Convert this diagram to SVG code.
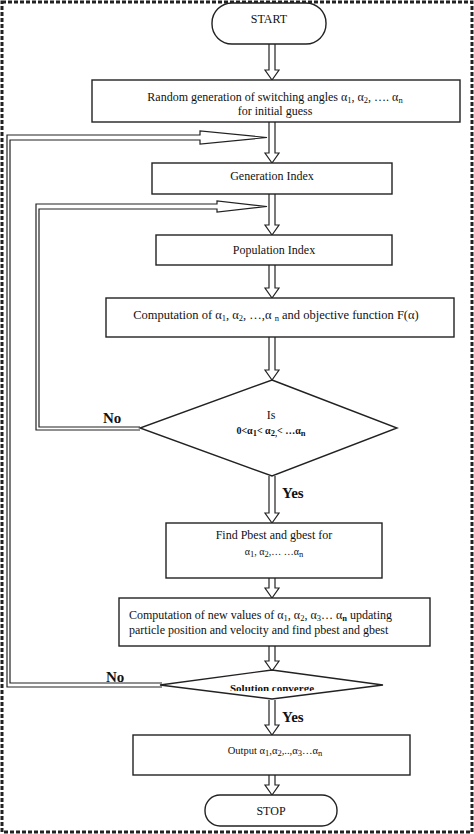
<svg xmlns="http://www.w3.org/2000/svg" width="474" height="834" viewBox="0 0 474 834">
<style>
.box{fill:#fff;stroke:#222;stroke-width:1.4}
.arr{fill:#fff;stroke:#222;stroke-width:1.2}
.t{font-family:"Liberation Serif","Times New Roman",serif;font-size:12px;fill:#111}
.c{text-anchor:middle}
.lbl{font-family:"Liberation Serif","Times New Roman",serif;font-size:15px;font-weight:bold;fill:#111}
.b{font-weight:bold}
.s{font-size:8.5px}
</style>
<defs>
<clipPath id="clipSol"><rect x="150" y="670" width="250" height="21"/></clipPath>
</defs>
<rect x="2" y="2" width="470" height="830" fill="#fff" stroke="#222" stroke-width="3" stroke-dasharray="4 2"/>

<g id="connectors">
<path class="arr" d="M162 687 H7 V135 H200 V131 L267 137.5 L200 144 V140 H10 V683 H162"/>
<path class="arr" d="M140 430 H36 V204 H217 V201 L267 206.5 L217 212 V209 H39 V427 H140"/>
<path class="arr" d="M269 44 V70 H265 L272 80 L279 70 H275 V44"/>
<path class="arr" d="M269 122 V153 H265 L272 163 L279 153 H275 V122"/>
<path class="arr" d="M269 194 V225 H265 L272 235 L279 225 H275 V194"/>
<path class="arr" d="M269 265 V288 H265 L272 298 L279 288 H275 V265"/>
<path class="arr" d="M269 337 V370 H265 L272 380 L279 370 H275 V337"/>
<path class="arr" d="M269 476 V513 H265 L272 523 L279 513 H275 V476"/>
<path class="arr" d="M269 578 V588 H265 L272 598 L279 588 H275 V578"/>
<path class="arr" d="M269 646 V661 H265 L272 671 L279 661 H275 V646"/>
<path class="arr" d="M269 700 V725 H265 L272 735 L279 725 H275 V700"/>
<path class="arr" d="M269 775 V785 H265 L272 795 L279 785 H275 V775"/>
<text class="lbl" x="103" y="423">No</text>
<text class="lbl" x="282" y="498">Yes</text>
<text class="lbl" x="106" y="682">No</text>
<text class="lbl" x="282" y="722">Yes</text>
</g>

<g id="start">
<rect class="box" x="212" y="3" width="114" height="41" rx="20"/>
<text class="t c" x="269" y="23">START</text>
</g>

<g id="random">
<rect class="box" x="92" y="80" width="368" height="42"/>
<text class="t c" x="275" y="101">Random generation of switching angles α<tspan class="s" dy="2">1</tspan><tspan dy="-2">, α</tspan><tspan class="s" dy="2">2</tspan><tspan dy="-2">, …. α</tspan><tspan class="s" dy="2">n</tspan></text>
<text class="t c" x="275" y="115">for initial guess</text>
</g>

<g id="generation">
<rect class="box" x="152" y="163" width="240" height="31"/>
<text class="t c" x="272" y="180">Generation Index</text>
</g>

<g id="population">
<rect class="box" x="156" y="235" width="236" height="30"/>
<text class="t c" x="274" y="254">Population Index</text>
</g>

<g id="computation">
<rect class="box" x="106" y="298" width="348" height="39"/>
<text class="t c" x="276" y="319" style="font-size:12.5px">Computation of α<tspan class="s" dy="2">1</tspan><tspan dy="-2">,  α</tspan><tspan class="s" dy="2">2</tspan><tspan dy="-2">, …,α </tspan><tspan class="s" dy="2">n</tspan><tspan dy="-2"> and objective function F(α)</tspan></text>
</g>

<g id="check">
<polygon class="box" points="272,380 397,428 272,476 140,428"/>
<text class="t c" x="271" y="419">Is</text>
<text class="t c b" x="271" y="434" style="font-size:10px">0&lt;α<tspan class="s" dy="2">1</tspan><tspan dy="-2">&lt; α</tspan><tspan class="s" dy="2">2,</tspan><tspan dy="-2">&lt; …α</tspan><tspan class="s" dy="2">n</tspan></text>
</g>

<g id="pbest">
<rect class="box" x="166" y="523" width="216" height="55"/>
<text class="t c" x="274" y="539">Find Pbest and gbest for</text>
<text class="t c" x="274" y="555" style="font-size:10px">α<tspan class="s" dy="2">1</tspan><tspan dy="-2">, α</tspan><tspan class="s" dy="2">2</tspan><tspan dy="-2">,… …α</tspan><tspan class="s" dy="2">n</tspan></text>
</g>

<g id="update">
<rect class="box" x="119" y="598" width="311" height="48"/>
<text class="t" x="129" y="619">Computation of new values of α<tspan class="s" dy="2">1</tspan><tspan dy="-2">, α</tspan><tspan class="s" dy="2">2</tspan><tspan dy="-2">, α</tspan><tspan class="s" dy="2">3</tspan><tspan dy="-2">… α</tspan><tspan class="s b" dy="2">n</tspan><tspan dy="-2"> updating</tspan></text>
<text class="t" x="129" y="634">particle position and velocity and find pbest and gbest</text>
</g>

<g id="converge">
<polygon class="box" points="272,670 383,685 272,699 160,685"/>
<text class="t c b" x="272" y="692" clip-path="url(#clipSol)" style="font-size:11px">Solution converge</text>
</g>

<g id="output">
<rect class="box" x="133" y="735" width="277" height="40"/>
<text class="t c" x="275" y="754" style="font-size:10.5px">Output α<tspan class="s" dy="2">1</tspan><tspan dy="-2">,α</tspan><tspan class="s" dy="2">2</tspan><tspan dy="-2">,..,α</tspan><tspan class="s" dy="2">3</tspan><tspan dy="-2">…α</tspan><tspan class="s" dy="2">n</tspan></text>
</g>

<g id="stop">
<rect class="box" x="205" y="795" width="132" height="31" rx="15"/>
<text class="t c" x="271" y="815">STOP</text>
</g>
</svg>
